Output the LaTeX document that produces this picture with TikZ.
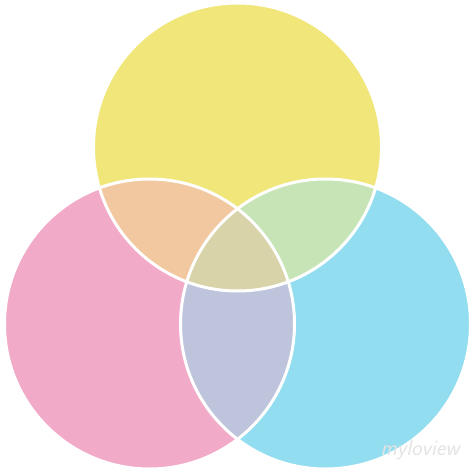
\documentclass[tikz,border=0pt]{standalone}
\usepackage{tikz}
\usetikzlibrary{calc}
\definecolor{setyellow}{HTML}{F0E67A}
\definecolor{setpink}{HTML}{F1AAC8}
\definecolor{setblue}{HTML}{92DEF0}
\definecolor{setorange}{HTML}{F2C8A0}
\definecolor{setgreen}{HTML}{C6E4B6}
\definecolor{setmid}{HTML}{D9D3A9}
\definecolor{setlilac}{HTML}{BEC4DB}
\tikzstyle{ring}=[draw=white, line width=3pt]
\tikzstyle{stamp}=[font=\sffamily\itshape\fontsize{22}{24}\selectfont, text=gray!22, inner sep=0pt]
\newcommand{\cTop}{(T) circle (144pt)}
\newcommand{\cLeft}{(L) circle (145pt)}
\newcommand{\cRight}{(R) circle (145pt)}

\begin{document}
\begin{tikzpicture}[x=1pt,y=-1pt]
\useasboundingbox (0,0) rectangle (474,474);

\coordinate (T) at (237.5,147);
\coordinate (L) at (149.5,324);
\coordinate (R) at (325.5,324);

\fill[setyellow] \cTop;
\fill[setpink] \cLeft;
\fill[setblue] \cRight;

\begin{scope}
  \clip \cTop;
  \fill[setorange] \cLeft;
  \fill[setgreen] \cRight;
\end{scope}
\begin{scope}
  \clip \cLeft;
  \fill[setlilac] \cRight;
\end{scope}
\begin{scope}
  \clip \cTop;
  \clip \cLeft;
  \fill[setmid] \cRight;
\end{scope}

\draw[ring] \cTop;
\draw[ring] \cLeft;
\draw[ring] \cRight;

\node[stamp] (logo) at (420,450) {myloview};

\end{tikzpicture}
\end{document}
